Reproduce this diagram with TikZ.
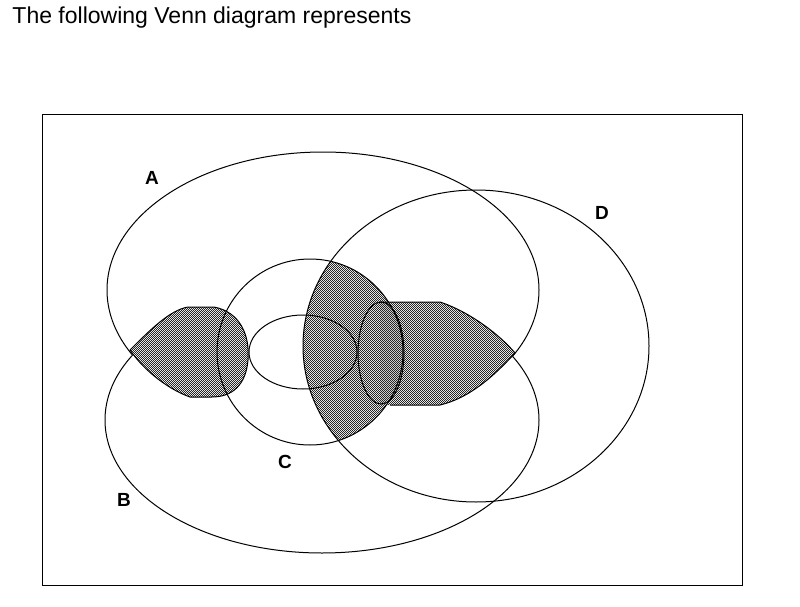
\documentclass[tikz,border=0pt]{standalone}
\usepackage{fontspec}
\setmainfont{Liberation Sans}
\usetikzlibrary{patterns.meta}
\tikzdeclarepattern{name=finechk,type=uncolored,bottom left={(0,0)},top right={(2.4pt,2.4pt)},tile size={(2.4pt,2.4pt)},
 code={\fill (0,0) rectangle (1.2pt,1.2pt); \fill (1.2pt,1.2pt) rectangle (2.4pt,2.4pt);}}
\begin{document}
\begin{tikzpicture}[x=1pt,y=-1pt,line width=1pt,
  shade/.style={pattern=finechk,pattern color=black!85},
  lbl/.style={font=\fontsize{19}{19}\selectfont\bfseries}]
\useasboundingbox (0,0) rectangle (800,607);
\node[anchor=west,font=\fontsize{23}{25}\selectfont,inner sep=0pt] (t) at (12,18) {The following Venn diagram represents};
% shaded regions
\begin{scope}
\clip (476,346) ellipse [x radius=173,y radius=156];
\fill[shade] (310,352) circle [radius=93];
\end{scope}
\fill[shade] (380,302) -- (440,302) .. controls (470,312) and (500,335) .. (515,353)
  .. controls (495,375) and (470,398) .. (440,405) -- (380,405) -- cycle;
\fill[shade] (130,350) .. controls (150,330) and (170,310) .. (188,307) -- (214,307)
  .. controls (240,312) and (250,335) .. (248,360) .. controls (246,385) and (232,397) .. (212,397)
  -- (190,397) .. controls (170,390) and (145,372) .. (130,350) -- cycle;
\draw (380,302) -- (440,302) .. controls (470,312) and (500,335) .. (515,353)
  .. controls (495,375) and (470,398) .. (440,405) -- (390,405);
\draw (130,350) .. controls (150,330) and (170,310) .. (188,307) -- (214,307)
  .. controls (240,312) and (250,335) .. (248,360) .. controls (246,385) and (232,397) .. (212,397)
  -- (190,397) .. controls (170,390) and (145,372) .. (130,350);
% outlines
\draw (42,115) rectangle (742,585);
\begin{scope}[even odd rule]
\clip (0,0) rectangle (800,607) (322,420) ellipse [x radius=217,y radius=133];
\draw (323,290) ellipse [x radius=216,y radius=138];
\end{scope}
\begin{scope}[even odd rule]
\clip (0,0) rectangle (800,607) (323,290) ellipse [x radius=216,y radius=138];
\draw (322,420) ellipse [x radius=217,y radius=133];
\end{scope}
\draw (476,346) ellipse [x radius=173,y radius=156];
\draw (310,352) circle [radius=93];
\draw (303,352) ellipse [x radius=54,y radius=37];
\draw (381,353) ellipse [x radius=23,y radius=51];
\node[lbl] (a) at (152,178) {A};
\node[lbl] (d) at (602,213) {D};
\node[lbl] (c) at (285,462) {C};
\node[lbl] (b) at (124,500) {B};
\end{tikzpicture}
\end{document}
